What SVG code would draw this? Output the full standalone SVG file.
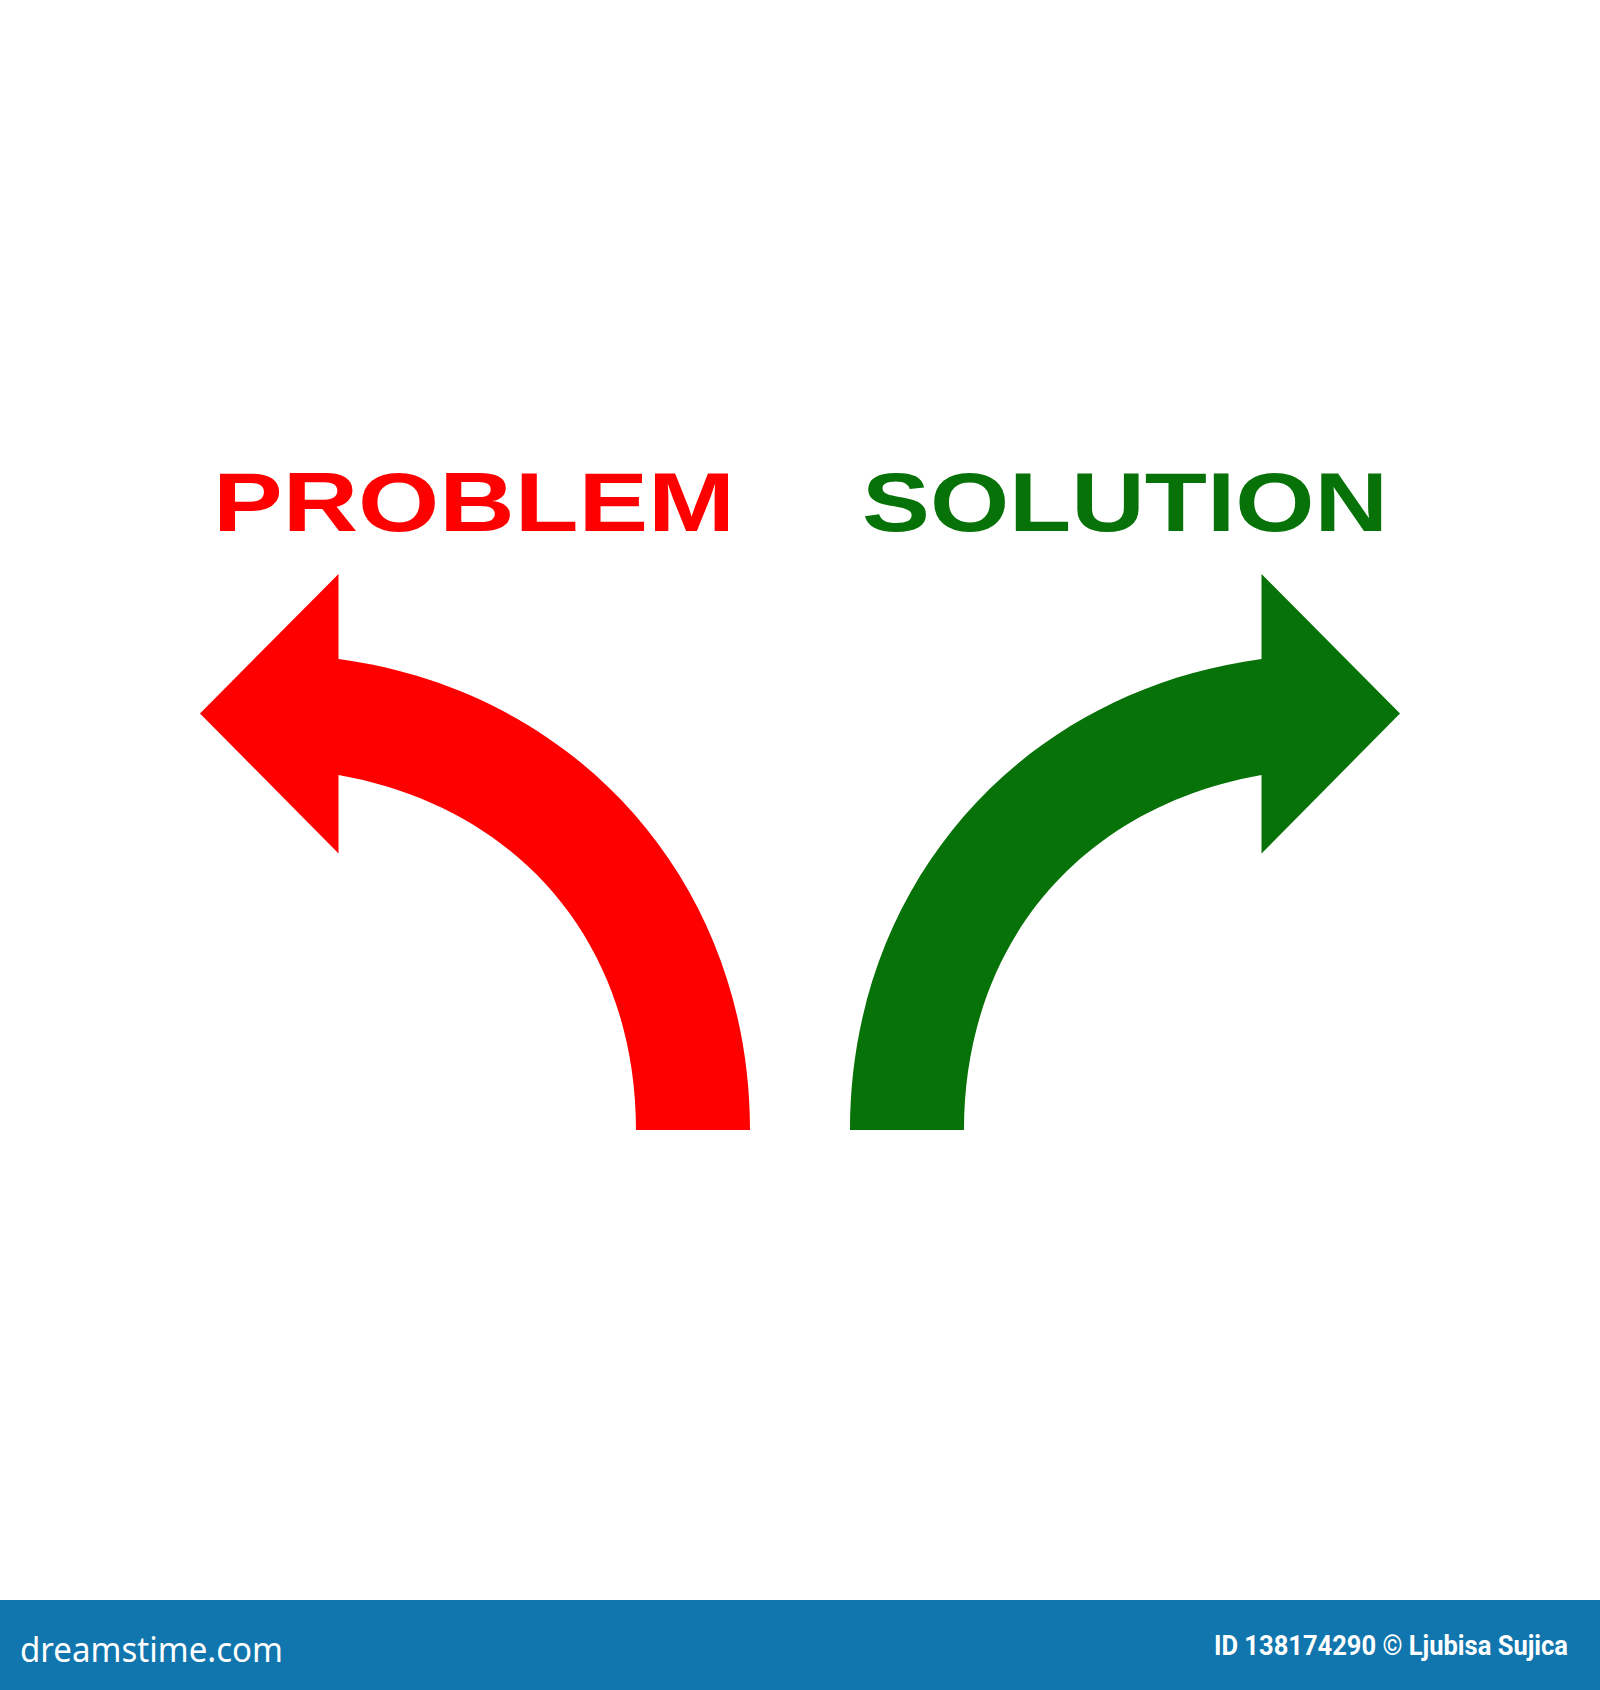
<svg xmlns="http://www.w3.org/2000/svg" width="1600" height="1690" viewBox="0 0 1600 1690">
  <style>
    .label { font-family: "Liberation Sans", Arial, sans-serif; font-weight: 700; font-size: 84px; }
    .problem { fill: #ff0000; }
    .solution { fill: #077207; }
    .bar-text { fill: #ffffff; }
  </style>
  <defs>
    <path id="curved-arrow" d="M 200 713.5 L 338.5 574 L 338.5 659 C 580 691.5, 750 885, 750 1130 L 636 1130 C 636 945, 520 807, 338.5 775 L 338.5 853.5 Z"/>
  </defs>
  <rect x="0" y="0" width="1600" height="1690" fill="#ffffff"/>

  <g id="problem">
    <text class="label problem" x="213" y="531" textLength="522" lengthAdjust="spacingAndGlyphs">PROBLEM</text>
  </g>

  <g id="solution">
    <text class="label solution" x="862" y="531" textLength="526" lengthAdjust="spacingAndGlyphs">SOLUTION</text>
  </g>

  <g id="connectors">
    <use id="arrow-problem" href="#curved-arrow" fill="#ff0000"/>
    <use id="arrow-solution" href="#curved-arrow" fill="#077207" transform="translate(1600,0) scale(-1,1)"/>
  </g>

  <g id="footer">
    <rect x="0" y="1600" width="1600" height="90" fill="#1176ad"/>
    <text class="bar-text" x="20" y="1662" font-family="'Noto Sans', 'DejaVu Sans', sans-serif" font-size="34" textLength="263" lengthAdjust="spacingAndGlyphs">dreamstime.com</text>
    <text class="bar-text" x="1214" y="1655" font-family="Roboto, 'Liberation Sans', sans-serif" font-weight="700" font-size="28" textLength="354" lengthAdjust="spacingAndGlyphs">ID 138174290 © Ljubisa Sujica</text>
  </g>
</svg>
